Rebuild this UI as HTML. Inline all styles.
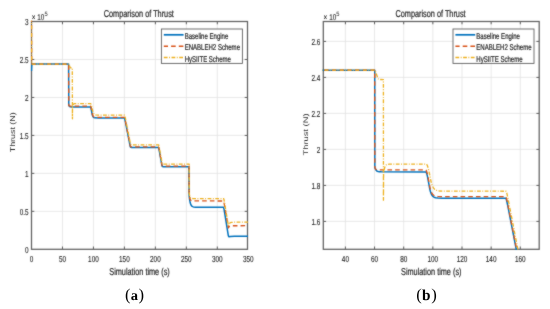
<!DOCTYPE html>
<html><head><meta charset="utf-8"><title>Comparison of Thrust</title>
<style>html,body{margin:0;padding:0;background:#fff;width:550px;height:309px;overflow:hidden}svg{display:block}svg text{stroke:#262626;stroke-width:.22px}svg text.cap,svg text.ns{stroke:none}svg text.tk{stroke-width:.12px}svg text.yl{stroke-width:0}</style>
</head><body>
<svg width="550" height="309" viewBox="0 0 550 309" font-family="'Liberation Sans', Arial, Helvetica, sans-serif" fill="#262626" text-rendering="geometricPrecision">
<defs>
<clipPath id="ca"><rect x="30.7" y="20.7" width="217.60" height="229.40"/></clipPath>
<clipPath id="cb"><rect x="322.5" y="20.7" width="217.50" height="229.40"/></clipPath>
<filter id="soft" x="0" y="0" width="550" height="309" filterUnits="userSpaceOnUse" color-interpolation-filters="sRGB"><feConvolveMatrix order="3" kernelMatrix="1 2 1 2 20 2 1 2 1" divisor="32" edgeMode="duplicate"/></filter>
</defs>
<g filter="url(#soft)">
<rect width="550" height="309" fill="#fff"/>
<line x1="62.47" y1="21.5" x2="62.47" y2="249.3" stroke="#e3e3e3" stroke-width="0.8"/>
<line x1="93.43" y1="21.5" x2="93.43" y2="249.3" stroke="#e3e3e3" stroke-width="0.8"/>
<line x1="124.40" y1="21.5" x2="124.40" y2="249.3" stroke="#e3e3e3" stroke-width="0.8"/>
<line x1="155.37" y1="21.5" x2="155.37" y2="249.3" stroke="#e3e3e3" stroke-width="0.8"/>
<line x1="186.33" y1="21.5" x2="186.33" y2="249.3" stroke="#e3e3e3" stroke-width="0.8"/>
<line x1="217.30" y1="21.5" x2="217.30" y2="249.3" stroke="#e3e3e3" stroke-width="0.8"/>
<line x1="31.5" y1="211.34" x2="247.5" y2="211.34" stroke="#e3e3e3" stroke-width="0.8"/>
<line x1="31.5" y1="173.37" x2="247.5" y2="173.37" stroke="#e3e3e3" stroke-width="0.8"/>
<line x1="31.5" y1="135.41" x2="247.5" y2="135.41" stroke="#e3e3e3" stroke-width="0.8"/>
<line x1="31.5" y1="97.44" x2="247.5" y2="97.44" stroke="#e3e3e3" stroke-width="0.8"/>
<line x1="31.5" y1="59.47" x2="247.5" y2="59.47" stroke="#e3e3e3" stroke-width="0.8"/>
<rect x="31.5" y="21.5" width="216.00" height="227.80" fill="none" stroke="#606060" stroke-width="1.25"/>
<line x1="62.47" y1="249.3" x2="62.47" y2="246.5" stroke="#606060" stroke-width="1"/>
<line x1="62.47" y1="21.5" x2="62.47" y2="24.3" stroke="#606060" stroke-width="1"/>
<line x1="93.43" y1="249.3" x2="93.43" y2="246.5" stroke="#606060" stroke-width="1"/>
<line x1="93.43" y1="21.5" x2="93.43" y2="24.3" stroke="#606060" stroke-width="1"/>
<line x1="124.40" y1="249.3" x2="124.40" y2="246.5" stroke="#606060" stroke-width="1"/>
<line x1="124.40" y1="21.5" x2="124.40" y2="24.3" stroke="#606060" stroke-width="1"/>
<line x1="155.37" y1="249.3" x2="155.37" y2="246.5" stroke="#606060" stroke-width="1"/>
<line x1="155.37" y1="21.5" x2="155.37" y2="24.3" stroke="#606060" stroke-width="1"/>
<line x1="186.33" y1="249.3" x2="186.33" y2="246.5" stroke="#606060" stroke-width="1"/>
<line x1="186.33" y1="21.5" x2="186.33" y2="24.3" stroke="#606060" stroke-width="1"/>
<line x1="217.30" y1="249.3" x2="217.30" y2="246.5" stroke="#606060" stroke-width="1"/>
<line x1="217.30" y1="21.5" x2="217.30" y2="24.3" stroke="#606060" stroke-width="1"/>
<line x1="31.5" y1="211.34" x2="34.3" y2="211.34" stroke="#606060" stroke-width="1"/>
<line x1="247.5" y1="211.34" x2="244.7" y2="211.34" stroke="#606060" stroke-width="1"/>
<line x1="31.5" y1="173.37" x2="34.3" y2="173.37" stroke="#606060" stroke-width="1"/>
<line x1="247.5" y1="173.37" x2="244.7" y2="173.37" stroke="#606060" stroke-width="1"/>
<line x1="31.5" y1="135.41" x2="34.3" y2="135.41" stroke="#606060" stroke-width="1"/>
<line x1="247.5" y1="135.41" x2="244.7" y2="135.41" stroke="#606060" stroke-width="1"/>
<line x1="31.5" y1="97.44" x2="34.3" y2="97.44" stroke="#606060" stroke-width="1"/>
<line x1="247.5" y1="97.44" x2="244.7" y2="97.44" stroke="#606060" stroke-width="1"/>
<line x1="31.5" y1="59.47" x2="34.3" y2="59.47" stroke="#606060" stroke-width="1"/>
<line x1="247.5" y1="59.47" x2="244.7" y2="59.47" stroke="#606060" stroke-width="1"/>
<g clip-path="url(#ca)" fill="none" stroke-linejoin="round">
<path d="M31.50,71.04 L31.72,65.69 L31.91,64.53 L32.27,64.08 L68.59,64.03 L68.78,105.07 L69.09,105.87 L69.45,106.37 L70.20,106.78 L71.50,106.92 L90.44,106.94 L90.76,107.44 L91.01,108.25 L92.19,114.43 L92.65,115.98 L93.04,116.76 L93.46,117.27 L93.97,117.62 L94.75,117.87 L98.38,118.02 L124.33,118.02 L124.66,118.54 L125.11,120.46 L130.15,146.11 L130.56,147.15 L130.82,147.31 L131.60,147.40 L158.33,147.40 L158.59,147.57 L159.00,149.21 L161.92,165.57 L162.19,166.32 L162.44,166.55 L163.47,166.69 L188.90,166.69 L189.12,195.52 L189.61,199.70 L190.28,203.06 L190.97,204.94 L191.42,205.69 L191.88,206.18 L192.64,206.66 L193.41,206.91 L195.75,207.13 L223.52,207.17 L224.11,209.61 L228.32,235.51 L228.65,236.59 L228.91,236.69 L230.47,236.43 L234.36,236.26 L248.12,236.24" stroke="#0072BD" stroke-width="1.5"/>
<path d="M31.50,17.71 L31.61,57.76 L31.80,63.88 L32.06,64.03 L68.64,64.03 L68.78,105.07 L69.20,105.83 L69.70,106.04 L70.98,106.10 L90.44,106.10 L90.86,106.87 L91.22,108.25 L92.19,113.51 L92.64,115.13 L93.35,116.42 L93.87,116.85 L94.65,117.15 L97.24,117.33 L124.49,117.41 L125.37,121.03 L130.22,145.64 L130.49,146.46 L130.73,146.71 L131.76,146.87 L158.48,146.87 L158.85,147.96 L159.22,149.83 L161.89,164.85 L162.14,165.63 L162.34,165.88 L163.36,166.08 L189.05,166.08 L189.12,194.73 L189.76,198.33 L190.27,199.62 L190.88,200.35 L191.65,200.73 L193.21,200.91 L223.57,201.00 L224.24,203.93 L228.40,227.79 L229.09,226.77 L229.59,226.32 L230.37,225.96 L231.41,225.77 L248.27,225.69" stroke="#D95319" stroke-width="1.3" stroke-dasharray="4.6 3.1" stroke-dashoffset="0.4"/>
<path d="M31.50,17.71 L31.61,57.76 L31.80,63.88 L32.06,64.03 L68.64,64.03 L69.02,64.54 L70.22,67.67 L70.72,67.94 L72.28,67.98 L72.44,118.85 L72.50,107.95 L72.61,106.98 L72.91,105.33 L73.33,104.30 L73.79,103.89 L74.56,103.70 L90.65,103.67 L91.04,104.13 L91.49,105.46 L92.79,111.46 L93.32,113.03 L93.77,113.80 L94.23,114.29 L94.75,114.62 L95.53,114.87 L98.38,115.05 L124.59,115.10 L125.42,118.41 L130.38,143.76 L130.72,144.54 L130.98,144.72 L131.76,144.82 L158.48,144.82 L158.74,145.04 L159.02,146.14 L162.01,162.81 L162.14,163.36 L162.44,163.88 L162.95,164.08 L163.73,164.11 L189.16,164.11 L189.18,193.22 L189.70,196.27 L190.07,197.31 L190.63,198.06 L191.39,198.43 L192.95,198.57 L223.57,198.58 L223.85,199.10 L224.29,201.25 L228.41,225.88 L228.99,224.27 L229.61,223.26 L230.37,222.67 L231.41,222.35 L234.00,222.20 L248.27,222.19" stroke="#EDB120" stroke-width="1.3" stroke-dasharray="3.8 1.5 0.9 1.5"/>
</g>
<text transform="translate(31.50,262.1) scale(0.735,1)" text-anchor="middle" font-size="8.7" class="tk">0</text>
<text transform="translate(62.47,262.1) scale(0.735,1)" text-anchor="middle" font-size="8.7" class="tk">50</text>
<text transform="translate(93.43,262.1) scale(0.735,1)" text-anchor="middle" font-size="8.7" class="tk">100</text>
<text transform="translate(124.40,262.1) scale(0.735,1)" text-anchor="middle" font-size="8.7" class="tk">150</text>
<text transform="translate(155.37,262.1) scale(0.735,1)" text-anchor="middle" font-size="8.7" class="tk">200</text>
<text transform="translate(186.33,262.1) scale(0.735,1)" text-anchor="middle" font-size="8.7" class="tk">250</text>
<text transform="translate(217.30,262.1) scale(0.735,1)" text-anchor="middle" font-size="8.7" class="tk">300</text>
<text transform="translate(248.27,262.1) scale(0.735,1)" text-anchor="middle" font-size="8.7" class="tk">350</text>
<text transform="translate(28.60,253.05) scale(0.735,1)" text-anchor="end" font-size="8.7" class="tk">0</text>
<text transform="translate(28.60,215.09) scale(0.735,1)" text-anchor="end" font-size="8.7" class="tk">0.5</text>
<text transform="translate(28.60,177.12) scale(0.735,1)" text-anchor="end" font-size="8.7" class="tk">1</text>
<text transform="translate(28.60,139.16) scale(0.735,1)" text-anchor="end" font-size="8.7" class="tk">1.5</text>
<text transform="translate(28.60,101.19) scale(0.735,1)" text-anchor="end" font-size="8.7" class="tk">2</text>
<text transform="translate(28.60,63.22) scale(0.735,1)" text-anchor="end" font-size="8.7" class="tk">2.5</text>
<text transform="translate(28.60,25.26) scale(0.735,1)" text-anchor="end" font-size="8.7" class="tk">3</text>
<text transform="translate(31.70,19.5) scale(0.76,1)" font-size="8.4" class="tk">&#215;</text>
<text transform="translate(37.33,19.5) scale(0.76,1)" font-size="8.4" class="tk">10</text>
<text transform="translate(44.50,15.6) scale(0.8,0.88)" font-size="7.2" class="ns">5</text>
<text transform="translate(138.80,16.9) scale(0.73,1)" text-anchor="middle" font-size="10">Comparison of Thrust</text>
<text transform="translate(139.50,275.3) scale(0.73,1)" text-anchor="middle" font-size="10">Simulation time (s)</text>
<text transform="translate(15.10,132.3) scale(0.8,1) rotate(-90)" text-anchor="middle" font-size="8.9" class="yl">Thrust (N)</text>
<rect x="161.4" y="29.0" width="81.00" height="34.40" fill="#fff" stroke="#606060" stroke-width="0.9"/>
<line x1="163.80" y1="34.8" x2="183.60" y2="34.8" stroke="#0072BD" stroke-width="1.7" />
<text transform="translate(184.70,38.80) scale(0.72,1)" font-size="8.4">Baseline Engine</text>
<line x1="163.80" y1="46.3" x2="183.60" y2="46.3" stroke="#D95319" stroke-width="1.5" stroke-dasharray="4.6 3.1" stroke-dashoffset="0.4"/>
<text transform="translate(184.70,50.30) scale(0.72,1)" font-size="8.4">ENABLEH2 Scheme</text>
<line x1="163.80" y1="57.6" x2="183.60" y2="57.6" stroke="#EDB120" stroke-width="1.5" stroke-dasharray="3.8 1.5 0.9 1.5"/>
<text transform="translate(184.70,61.60) scale(0.72,1)" font-size="8.4">HySIITE Scheme</text>
<line x1="345.40" y1="21.5" x2="345.40" y2="249.3" stroke="#e3e3e3" stroke-width="0.8"/>
<line x1="374.55" y1="21.5" x2="374.55" y2="249.3" stroke="#e3e3e3" stroke-width="0.8"/>
<line x1="403.70" y1="21.5" x2="403.70" y2="249.3" stroke="#e3e3e3" stroke-width="0.8"/>
<line x1="432.85" y1="21.5" x2="432.85" y2="249.3" stroke="#e3e3e3" stroke-width="0.8"/>
<line x1="462.00" y1="21.5" x2="462.00" y2="249.3" stroke="#e3e3e3" stroke-width="0.8"/>
<line x1="491.15" y1="21.5" x2="491.15" y2="249.3" stroke="#e3e3e3" stroke-width="0.8"/>
<line x1="520.30" y1="21.5" x2="520.30" y2="249.3" stroke="#e3e3e3" stroke-width="0.8"/>
<line x1="323.3" y1="221.40" x2="539.2" y2="221.40" stroke="#e3e3e3" stroke-width="0.8"/>
<line x1="323.3" y1="185.40" x2="539.2" y2="185.40" stroke="#e3e3e3" stroke-width="0.8"/>
<line x1="323.3" y1="149.40" x2="539.2" y2="149.40" stroke="#e3e3e3" stroke-width="0.8"/>
<line x1="323.3" y1="113.40" x2="539.2" y2="113.40" stroke="#e3e3e3" stroke-width="0.8"/>
<line x1="323.3" y1="77.40" x2="539.2" y2="77.40" stroke="#e3e3e3" stroke-width="0.8"/>
<line x1="323.3" y1="41.40" x2="539.2" y2="41.40" stroke="#e3e3e3" stroke-width="0.8"/>
<rect x="323.3" y="21.5" width="215.90" height="227.80" fill="none" stroke="#606060" stroke-width="1.25"/>
<line x1="345.40" y1="249.3" x2="345.40" y2="246.5" stroke="#606060" stroke-width="1"/>
<line x1="345.40" y1="21.5" x2="345.40" y2="24.3" stroke="#606060" stroke-width="1"/>
<line x1="374.55" y1="249.3" x2="374.55" y2="246.5" stroke="#606060" stroke-width="1"/>
<line x1="374.55" y1="21.5" x2="374.55" y2="24.3" stroke="#606060" stroke-width="1"/>
<line x1="403.70" y1="249.3" x2="403.70" y2="246.5" stroke="#606060" stroke-width="1"/>
<line x1="403.70" y1="21.5" x2="403.70" y2="24.3" stroke="#606060" stroke-width="1"/>
<line x1="432.85" y1="249.3" x2="432.85" y2="246.5" stroke="#606060" stroke-width="1"/>
<line x1="432.85" y1="21.5" x2="432.85" y2="24.3" stroke="#606060" stroke-width="1"/>
<line x1="462.00" y1="249.3" x2="462.00" y2="246.5" stroke="#606060" stroke-width="1"/>
<line x1="462.00" y1="21.5" x2="462.00" y2="24.3" stroke="#606060" stroke-width="1"/>
<line x1="491.15" y1="249.3" x2="491.15" y2="246.5" stroke="#606060" stroke-width="1"/>
<line x1="491.15" y1="21.5" x2="491.15" y2="24.3" stroke="#606060" stroke-width="1"/>
<line x1="520.30" y1="249.3" x2="520.30" y2="246.5" stroke="#606060" stroke-width="1"/>
<line x1="520.30" y1="21.5" x2="520.30" y2="24.3" stroke="#606060" stroke-width="1"/>
<line x1="323.3" y1="221.40" x2="326.1" y2="221.40" stroke="#606060" stroke-width="1"/>
<line x1="539.2" y1="221.40" x2="536.4000000000001" y2="221.40" stroke="#606060" stroke-width="1"/>
<line x1="323.3" y1="185.40" x2="326.1" y2="185.40" stroke="#606060" stroke-width="1"/>
<line x1="539.2" y1="185.40" x2="536.4000000000001" y2="185.40" stroke="#606060" stroke-width="1"/>
<line x1="323.3" y1="149.40" x2="326.1" y2="149.40" stroke="#606060" stroke-width="1"/>
<line x1="539.2" y1="149.40" x2="536.4000000000001" y2="149.40" stroke="#606060" stroke-width="1"/>
<line x1="323.3" y1="113.40" x2="326.1" y2="113.40" stroke="#606060" stroke-width="1"/>
<line x1="539.2" y1="113.40" x2="536.4000000000001" y2="113.40" stroke="#606060" stroke-width="1"/>
<line x1="323.3" y1="77.40" x2="326.1" y2="77.40" stroke="#606060" stroke-width="1"/>
<line x1="539.2" y1="77.40" x2="536.4000000000001" y2="77.40" stroke="#606060" stroke-width="1"/>
<line x1="323.3" y1="41.40" x2="326.1" y2="41.40" stroke="#606060" stroke-width="1"/>
<line x1="539.2" y1="41.40" x2="536.4000000000001" y2="41.40" stroke="#606060" stroke-width="1"/>
<g clip-path="url(#cb)" fill="none" stroke-linejoin="round">
<path d="M287.10,86.82 L287.36,78.29 L287.71,73.30 L287.95,71.83 L288.24,70.93 L288.67,70.42 L289.20,70.25 L374.72,70.20 L374.84,167.50 L375.60,169.43 L376.62,170.77 L377.41,171.28 L378.19,171.56 L379.24,171.75 L381.34,171.87 L425.68,171.90 L425.94,172.01 L426.29,172.51 L426.73,173.61 L427.46,176.34 L429.79,188.99 L430.34,191.32 L430.98,193.29 L431.74,194.90 L432.73,196.24 L434.05,197.21 L435.62,197.76 L437.98,198.06 L442.18,198.17 L505.67,198.18 L505.93,198.37 L506.63,200.52 L507.74,205.69 L519.28,264.92 L519.80,266.65 L520.42,267.42 L521.20,267.73 L523.04,267.84 L586.00,267.92 L586.30,268.54 L586.65,269.80 L587.64,274.73 L593.93,310.48 L594.43,312.24 L594.75,312.80 L595.24,313.23 L596.03,313.48 L597.87,313.56 L657.95,313.56 L658.03,381.91 L659.02,390.59 L659.72,395.02 L660.42,398.41 L661.21,401.28 L662.14,403.74 L663.19,405.64 L664.27,406.94 L665.58,407.95 L667.42,408.73 L669.78,409.19 L672.93,409.41 L739.04,409.58 L739.39,410.45 L739.80,412.19 L740.91,418.41 L750.29,476.70 L750.70,478.48 L751.23,479.53 L756.21,478.81 L762.24,478.53 L797.14,478.44" stroke="#0072BD" stroke-width="1.5"/>
<path d="M287.10,-39.60 L287.33,51.12 L287.51,65.94 L287.62,68.63 L287.83,69.93 L288.09,70.17 L288.35,70.20 L374.67,70.20 L374.84,167.50 L375.13,168.30 L375.66,169.13 L376.18,169.54 L376.71,169.73 L378.81,169.91 L425.77,169.93 L426.03,170.12 L426.50,170.96 L427.34,173.76 L428.22,177.85 L429.96,187.62 L430.63,190.29 L431.10,191.66 L432.00,193.52 L433.05,194.81 L434.37,195.68 L435.94,196.18 L437.78,196.42 L442.24,196.55 L505.72,196.56 L505.99,196.85 L506.40,198.00 L507.39,202.31 L519.45,263.82 L519.89,265.27 L520.45,266.08 L521.50,266.50 L523.33,266.58 L585.77,266.58 L586.03,266.69 L586.30,267.27 L587.32,271.74 L593.96,309.20 L594.37,310.67 L594.63,311.19 L595.10,311.70 L595.89,312.01 L597.72,312.12 L657.80,312.12 L658.03,380.05 L658.73,384.89 L659.72,389.15 L660.74,391.62 L661.94,393.17 L662.99,393.88 L664.04,394.27 L665.61,394.55 L668.24,394.70 L738.81,394.74 L739.07,394.86 L739.42,395.74 L740.27,399.62 L750.00,456.56 L750.56,458.61 L751.72,456.46 L752.36,455.69 L753.15,455.00 L753.94,454.52 L754.99,454.10 L757.35,453.65 L763.38,453.43 L797.22,453.42" stroke="#D95319" stroke-width="1.3" stroke-dasharray="4.6 3.1" stroke-dashoffset="0.4"/>
<path d="M287.10,-39.60 L287.33,51.12 L287.51,65.94 L287.62,68.63 L287.83,69.93 L288.09,70.17 L288.35,70.20 L374.40,70.20 L374.67,70.24 L374.93,70.51 L375.37,71.33 L377.87,78.21 L378.43,79.04 L378.95,79.35 L379.74,79.50 L383.41,79.56 L383.44,200.16 L383.59,174.31 L383.99,170.96 L384.72,167.49 L385.13,166.39 L385.60,165.57 L386.06,165.05 L386.85,164.57 L387.64,164.35 L388.95,164.21 L426.47,164.21 L426.93,164.71 L427.34,165.53 L428.19,168.09 L429.21,172.28 L431.07,181.54 L431.71,183.99 L432.41,185.95 L433.43,187.89 L434.51,189.17 L435.82,190.07 L437.66,190.69 L440.28,191.02 L445.27,191.15 L506.13,191.23 L506.51,192.04 L506.86,193.27 L508.03,198.68 L519.80,259.20 L520.18,260.40 L520.74,261.21 L521.26,261.51 L521.79,261.64 L523.62,261.72 L586.06,261.72 L586.32,261.83 L586.67,262.69 L587.64,267.06 L594.28,304.65 L594.72,306.12 L595.04,306.68 L595.54,307.11 L596.32,307.36 L598.16,307.44 L657.98,307.44 L658.18,376.46 L658.73,380.47 L659.52,384.10 L660.51,386.60 L661.56,387.91 L662.35,388.43 L663.40,388.81 L664.71,389.02 L667.33,389.14 L739.22,389.16 L739.57,389.73 L739.92,390.99 L740.97,396.49 L750.56,454.10 L751.69,450.47 L752.33,449.11 L753.00,448.06 L753.70,447.26 L754.75,446.45 L755.80,445.95 L756.85,445.64 L759.74,445.27 L763.67,445.16 L796.99,445.14" stroke="#EDB120" stroke-width="1.3" stroke-dasharray="3.8 1.5 0.9 1.5"/>
</g>
<text transform="translate(345.40,262.1) scale(0.735,1)" text-anchor="middle" font-size="8.7" class="tk">40</text>
<text transform="translate(374.55,262.1) scale(0.735,1)" text-anchor="middle" font-size="8.7" class="tk">60</text>
<text transform="translate(403.70,262.1) scale(0.735,1)" text-anchor="middle" font-size="8.7" class="tk">80</text>
<text transform="translate(432.85,262.1) scale(0.735,1)" text-anchor="middle" font-size="8.7" class="tk">100</text>
<text transform="translate(462.00,262.1) scale(0.735,1)" text-anchor="middle" font-size="8.7" class="tk">120</text>
<text transform="translate(491.15,262.1) scale(0.735,1)" text-anchor="middle" font-size="8.7" class="tk">140</text>
<text transform="translate(520.30,262.1) scale(0.735,1)" text-anchor="middle" font-size="8.7" class="tk">160</text>
<text transform="translate(320.40,225.15) scale(0.735,1)" text-anchor="end" font-size="8.7" class="tk">1.6</text>
<text transform="translate(320.40,189.15) scale(0.735,1)" text-anchor="end" font-size="8.7" class="tk">1.8</text>
<text transform="translate(320.40,153.15) scale(0.735,1)" text-anchor="end" font-size="8.7" class="tk">2</text>
<text transform="translate(320.40,117.15) scale(0.735,1)" text-anchor="end" font-size="8.7" class="tk">2.2</text>
<text transform="translate(320.40,81.15) scale(0.735,1)" text-anchor="end" font-size="8.7" class="tk">2.4</text>
<text transform="translate(320.40,45.15) scale(0.735,1)" text-anchor="end" font-size="8.7" class="tk">2.6</text>
<text transform="translate(323.50,19.5) scale(0.76,1)" font-size="8.4" class="tk">&#215;</text>
<text transform="translate(329.13,19.5) scale(0.76,1)" font-size="8.4" class="tk">10</text>
<text transform="translate(336.30,15.6) scale(0.8,0.88)" font-size="7.2" class="ns">5</text>
<text transform="translate(430.55,16.9) scale(0.73,1)" text-anchor="middle" font-size="10">Comparison of Thrust</text>
<text transform="translate(431.25,275.3) scale(0.73,1)" text-anchor="middle" font-size="10">Simulation time (s)</text>
<text transform="translate(307.70,134.5) scale(0.72,1) rotate(-90)" text-anchor="middle" font-size="9.35" class="yl">Thrust (N)</text>
<rect x="453.0" y="29.0" width="81.00" height="34.40" fill="#fff" stroke="#606060" stroke-width="0.9"/>
<line x1="455.40" y1="34.8" x2="475.20" y2="34.8" stroke="#0072BD" stroke-width="1.7" />
<text transform="translate(476.30,38.80) scale(0.72,1)" font-size="8.4">Baseline Engine</text>
<line x1="455.40" y1="46.3" x2="475.20" y2="46.3" stroke="#D95319" stroke-width="1.5" stroke-dasharray="4.6 3.1" stroke-dashoffset="0.4"/>
<text transform="translate(476.30,50.30) scale(0.72,1)" font-size="8.4">ENABLEH2 Scheme</text>
<line x1="455.40" y1="57.6" x2="475.20" y2="57.6" stroke="#EDB120" stroke-width="1.5" stroke-dasharray="3.8 1.5 0.9 1.5"/>
<text transform="translate(476.30,61.60) scale(0.72,1)" font-size="8.4">HySIITE Scheme</text>
</g>
<text class="cap" x="125.1" y="299.6" font-family="'Liberation Serif', 'Times New Roman', serif" font-size="16.7" fill="#000">(<tspan font-weight="bold" font-size="14.5">a</tspan><tspan dx="0.5">)</tspan></text>
<text class="cap" x="416.35" y="299.6" font-family="'Liberation Serif', 'Times New Roman', serif" font-size="16.7" fill="#000">(<tspan font-weight="bold" font-size="15.3">b</tspan><tspan dx="0.8">)</tspan></text>
</svg>
</body></html>
